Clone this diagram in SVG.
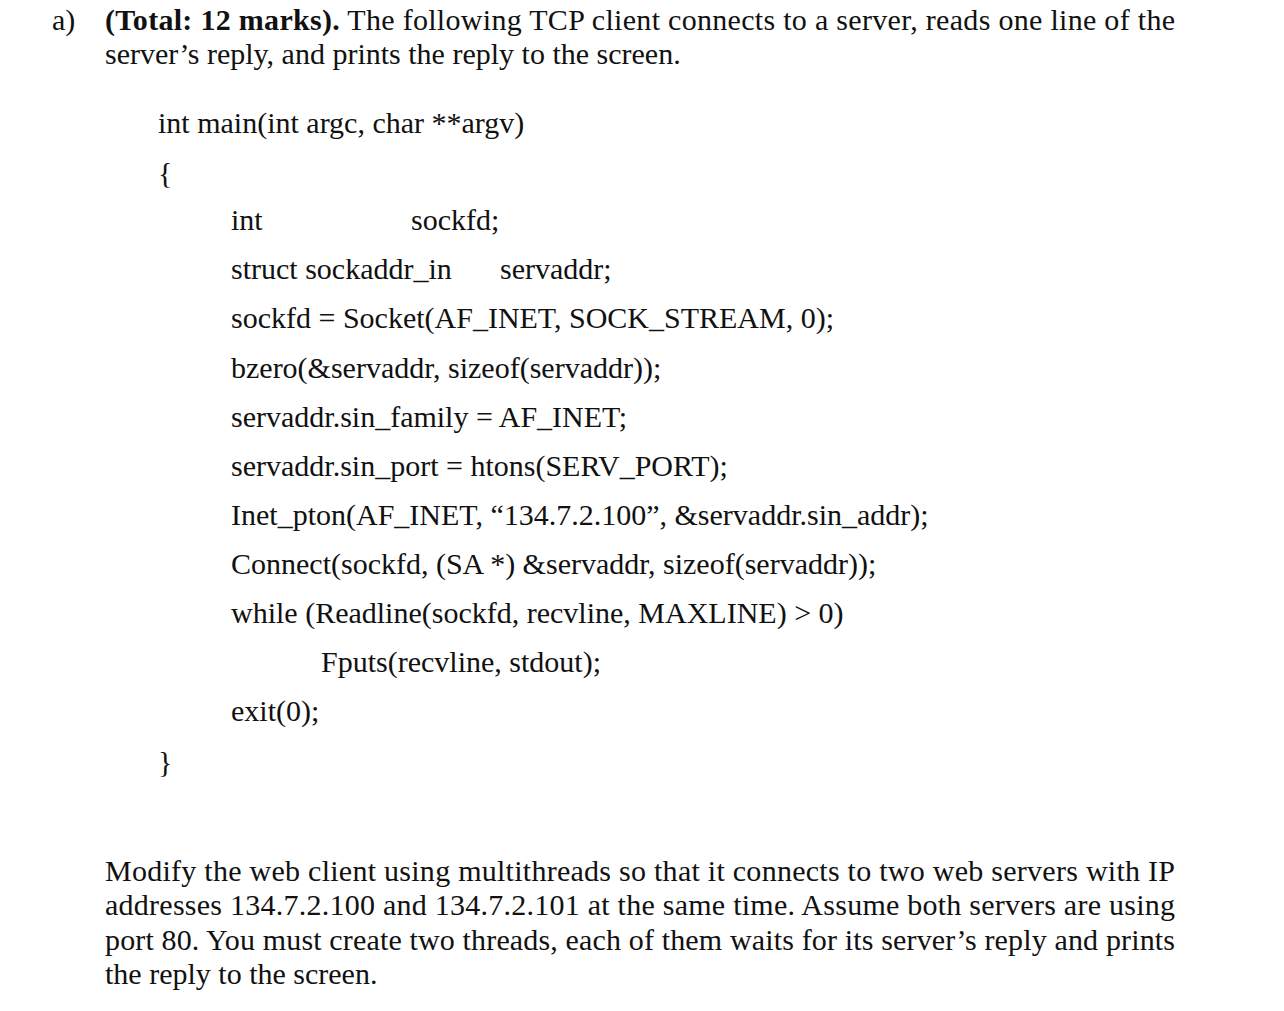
<svg xmlns="http://www.w3.org/2000/svg" width="1284" height="1011" viewBox="0 0 1284 1011">
<style>
text{font-family:"Liberation Serif","Times New Roman",serif;fill:#111;font-size:30px}
.p{font-size:30px}
.b{font-weight:bold}
</style>
<rect width="1284" height="1011" fill="#fff"/>
<text x="52" y="30" class="p">a)</text>
<text x="105" y="30" class="p" textLength="1070" lengthAdjust="spacing"><tspan class="b">(Total: 12 marks).</tspan> The following TCP client connects to a server, reads one line of the</text>
<text x="105" y="64" class="p">server’s reply, and prints the reply to the screen.</text>
<g id="code">
<text x="158" y="133">int  main(int argc, char **argv)</text>
<text x="158" y="183">{</text>
<text x="231" y="230">int</text>
<text x="411" y="230">sockfd;</text>
<text x="231" y="279">struct sockaddr_in</text>
<text x="500" y="279">servaddr;</text>
<text x="231" y="328">sockfd = Socket(AF_INET, SOCK_STREAM, 0);</text>
<text x="231" y="378">bzero(&amp;servaddr, sizeof(servaddr));</text>
<text x="231" y="427">servaddr.sin_family = AF_INET;</text>
<text x="231" y="476">servaddr.sin_port = htons(SERV_PORT);</text>
<text x="231" y="525">Inet_pton(AF_INET, “134.7.2.100”, &amp;servaddr.sin_addr);</text>
<text x="231" y="574">Connect(sockfd, (SA *) &amp;servaddr, sizeof(servaddr));</text>
<text x="231" y="623">while (Readline(sockfd, recvline, MAXLINE) &gt; 0)</text>
<text x="321" y="672">Fputs(recvline, stdout);</text>
<text x="231" y="721">exit(0);</text>
<text x="158" y="772">}</text>
</g>
<g id="para">
<text x="105" y="881" class="p" textLength="1070" lengthAdjust="spacing">Modify the web client using multithreads so that it connects to two web servers with IP</text>
<text x="105" y="915" class="p" textLength="1070" lengthAdjust="spacing">addresses 134.7.2.100 and 134.7.2.101 at the same time. Assume both servers are using</text>
<text x="105" y="950" class="p" textLength="1070" lengthAdjust="spacing">port 80. You must create two threads, each of them waits for its server’s reply and prints</text>
<text x="105" y="984" class="p">the reply to the screen.</text>
</g>
</svg>
